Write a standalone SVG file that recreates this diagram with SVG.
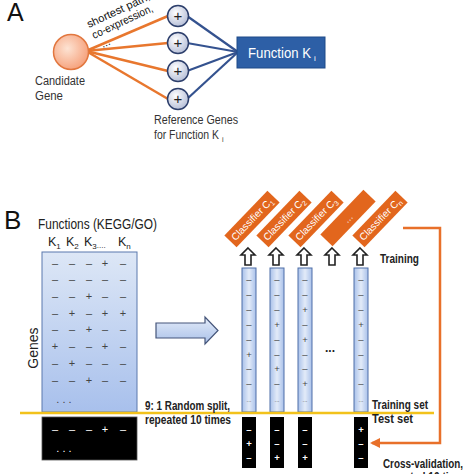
<svg xmlns="http://www.w3.org/2000/svg" width="474" height="474" viewBox="0 0 474 474">
<defs>
<radialGradient id="gCand" cx="0.4" cy="0.4" r="0.7"><stop offset="0" stop-color="#fde3d3"/><stop offset="1" stop-color="#f59a72"/></radialGradient>
<radialGradient id="gPlus" cx="0.4" cy="0.35" r="0.7"><stop offset="0" stop-color="#ffffff"/><stop offset="1" stop-color="#b3bcd6"/></radialGradient>
<linearGradient id="gMat" x1="0" y1="0" x2="0" y2="1"><stop offset="0" stop-color="#dde7f6"/><stop offset="1" stop-color="#a8c0ec"/></linearGradient>
<linearGradient id="gCol" x1="0" y1="0" x2="1" y2="0"><stop offset="0" stop-color="#a9c1ea"/><stop offset="0.5" stop-color="#e3ebf8"/><stop offset="1" stop-color="#a9c1ea"/></linearGradient>
<linearGradient id="gArr" x1="0" y1="0" x2="0" y2="1"><stop offset="0" stop-color="#e4ecf9"/><stop offset="1" stop-color="#a9c0e8"/></linearGradient>
<marker id="mOr" viewBox="0 0 10 10" refX="8" refY="5" markerWidth="4" markerHeight="4" orient="auto"><path d="M0,0 L10,5 L0,10 Z" fill="#e8702a"/></marker>
</defs>
<style>
text{font-family:"Liberation Sans",Arial,sans-serif;}
.lbl{font-size:12.5px;fill:#333;}
.bold{font-weight:bold;font-size:12.5px;fill:#222;}
.plus{fill:url(#gPlus);stroke:#2c3e6b;stroke-width:1.5;}
.ptxt{font-size:15px;fill:#222;text-anchor:middle;}
.orl{stroke:#e8772e;stroke-width:2.5;fill:none;}
.bll{stroke:#34528f;stroke-width:2.2;fill:none;}
.m{font-size:11px;fill:#444;text-anchor:middle;}
.c{font-size:9.5px;fill:#444;text-anchor:middle;}
.t{font-size:9.5px;fill:#fff;text-anchor:middle;font-weight:bold;}
.col{fill:url(#gCol);stroke:#4f6fa8;stroke-width:1;}
.tb{fill:#000;}
.cls{fill:#e2661d;}
.ctx{font-size:10px;fill:#fff;text-anchor:middle;}
.ha{fill:#fff;stroke:#222;stroke-width:1.6;}
.edge{font-size:11px;fill:#111;}
</style>

<text x="7" y="21" style="font-size:25px;fill:#111">A</text>

<g id="connectorsA">
<line class="orl" x1="86" y1="51" x2="168" y2="16"/>
<line class="orl" x1="86" y1="51" x2="168" y2="43"/>
<line class="orl" x1="86" y1="51" x2="168" y2="71"/>
<line class="orl" x1="86" y1="51" x2="168" y2="99"/>
<line class="bll" x1="187" y1="16" x2="238" y2="52"/>
<line class="bll" x1="187" y1="43" x2="238" y2="52"/>
<line class="bll" x1="187" y1="71" x2="238" y2="52"/>
<line class="bll" x1="187" y1="99" x2="238" y2="52"/>
<g transform="translate(89,28) rotate(-25)">
<text class="edge" x="0" y="0" textLength="68" lengthAdjust="spacingAndGlyphs">shortest path,</text>
<text class="edge" x="0" y="12" textLength="66" lengthAdjust="spacingAndGlyphs">co-expression,</text>
<text class="edge" x="4" y="24">...</text>
</g>
</g>

<g id="candidate">
<circle cx="71" cy="52" r="17.5" fill="url(#gCand)" stroke="#e2773f" stroke-width="1.5"/>
<text class="lbl" x="35" y="85" textLength="50" lengthAdjust="spacingAndGlyphs">Candidate</text>
<text class="lbl" x="35" y="100" textLength="28" lengthAdjust="spacingAndGlyphs">Gene</text>
</g>
<g id="ref1"><circle class="plus" cx="178" cy="16" r="10.5"/><text class="ptxt" x="178" y="21">+</text></g>
<g id="ref2"><circle class="plus" cx="178" cy="43" r="10.5"/><text class="ptxt" x="178" y="48">+</text></g>
<g id="ref3"><circle class="plus" cx="178" cy="71" r="10.5"/><text class="ptxt" x="178" y="76">+</text></g>
<g id="ref4"><circle class="plus" cx="178" cy="99" r="10.5"/><text class="ptxt" x="178" y="104">+</text></g>
<text class="lbl" x="154" y="124" textLength="84" lengthAdjust="spacingAndGlyphs">Reference Genes</text>
<text class="lbl" x="154" y="139" textLength="65" lengthAdjust="spacingAndGlyphs">for Function K</text>
<text x="222" y="142" style="font-size:7px;fill:#333">i</text>
<g id="function">
<rect x="237" y="37" width="88" height="31" fill="#2d5fa6" stroke="#1f4a88" stroke-width="1"/>
<text x="248" y="58" style="font-size:14px;fill:#fff" textLength="63" lengthAdjust="spacingAndGlyphs">Function K</text>
<text x="314" y="61" style="font-size:8px;fill:#fff">i</text>
</g>

<text x="4" y="229" style="font-size:26px;fill:#111">B</text>
<text x="38" y="229" style="font-size:14px;fill:#222" textLength="119" lengthAdjust="spacingAndGlyphs">Functions (KEGG/GO)</text>
<g style="font-size:12.5px;fill:#222">
<text x="48" y="246">K<tspan dy="3" style="font-size:8px">1</tspan></text>
<text x="66" y="246">K<tspan dy="3" style="font-size:8px">2</tspan></text>
<text x="84" y="246">K<tspan dy="3" style="font-size:8px">3</tspan><tspan dy="-1" style="font-size:8px">....</tspan></text>
<text x="118" y="246">K<tspan dy="3" style="font-size:8px">n</tspan></text>
</g>

<g id="matrix">
<rect x="42" y="252" width="95" height="160" fill="url(#gMat)" stroke="#5a78ad" stroke-width="1"/>
<g class="m">
<text x="55" y="267">–</text><text x="72" y="267">–</text><text x="89" y="267">–</text><text x="105" y="267">+</text><text x="123" y="267">–</text>
<text x="55" y="283">–</text><text x="72" y="283">–</text><text x="89" y="283">–</text><text x="105" y="283">–</text><text x="123" y="283">–</text>
<text x="55" y="300">–</text><text x="72" y="300">–</text><text x="89" y="300">+</text><text x="105" y="300">–</text><text x="123" y="300">–</text>
<text x="55" y="317">–</text><text x="72" y="317">+</text><text x="89" y="317">–</text><text x="105" y="317">+</text><text x="123" y="317">+</text>
<text x="55" y="333">–</text><text x="72" y="333">–</text><text x="89" y="333">+</text><text x="105" y="333">–</text><text x="123" y="333">–</text>
<text x="55" y="350">+</text><text x="72" y="350">–</text><text x="89" y="350">–</text><text x="105" y="350">+</text><text x="123" y="350">–</text>
<text x="55" y="367">–</text><text x="72" y="367">+</text><text x="89" y="367">–</text><text x="105" y="367">–</text><text x="123" y="367">–</text>
<text x="55" y="384">–</text><text x="72" y="384">–</text><text x="89" y="384">+</text><text x="105" y="384">–</text><text x="123" y="384">–</text>
<text x="64" y="403">. . .</text>
</g>
<text transform="translate(38,348) rotate(-90)" style="font-size:14px;fill:#222;text-anchor:middle">Genes</text>
</g>

<g id="testmatrix">
<rect x="42" y="417" width="95" height="43" fill="#000" stroke="#555" stroke-width="0.8"/>
<g class="m" style="fill:#fff">
<text x="55" y="433">–</text><text x="72" y="433">–</text><text x="89" y="433">–</text><text x="105" y="433">+</text><text x="123" y="433">–</text>
<text x="64" y="452">. . .</text>
</g>
</g>

<g id="bigarrow">
<path d="M156,323 L205,323 L205,317 L218,330.5 L205,344 L205,338 L156,338 Z" fill="url(#gArr)" stroke="#45557a" stroke-width="1.2"/>
</g>

<g id="classifiers">
<g transform="translate(252,219) rotate(-46)"><rect class="cls" x="-31" y="-8.5" width="62" height="17"/><text class="ctx" x="0" y="3.5">Classifier C<tspan dy="2.5" style="font-size:7px">1</tspan></text></g>
<g transform="translate(284,219) rotate(-46)"><rect class="cls" x="-31" y="-8.5" width="62" height="17"/><text class="ctx" x="0" y="3.5">Classifier C<tspan dy="2.5" style="font-size:7px">2</tspan></text></g>
<g transform="translate(316,219) rotate(-46)"><rect class="cls" x="-31" y="-8.5" width="62" height="17"/><text class="ctx" x="0" y="3.5">Classifier C<tspan dy="2.5" style="font-size:7px">3</tspan></text></g>
<g transform="translate(348,218) rotate(-46)"><rect class="cls" x="-31" y="-8.5" width="62" height="17"/><text class="ctx" x="0" y="3.5">...</text></g>
<g transform="translate(380,219) rotate(-46)"><rect class="cls" x="-31" y="-8.5" width="62" height="17"/><text class="ctx" x="0" y="3.5">Classifier C<tspan dy="2.5" style="font-size:7px">n</tspan></text></g>
</g>

<g id="uparrows">
<path class="ha" d="M248,248 L255,255 L251,255 L251,265 L245,265 L245,255 L241,255 Z"/>
<path class="ha" d="M276,248 L283,255 L279,255 L279,265 L273,265 L273,255 L269,255 Z"/>
<path class="ha" d="M304,248 L311,255 L307,255 L307,265 L301,265 L301,255 L297,255 Z"/>
<path class="ha" d="M332,248 L339,255 L335,255 L335,265 L329,265 L329,255 L325,255 Z"/>
<path class="ha" d="M360,248 L367,255 L363,255 L363,265 L357,265 L357,255 L353,255 Z"/>
</g>
<text class="bold" x="380" y="263" textLength="39" lengthAdjust="spacingAndGlyphs">Training</text>

<g id="col1">
<rect class="col" x="242" y="268" width="14" height="144"/>
<g class="c"><text x="249" y="283">–</text><text x="249" y="298">–</text><text x="249" y="313">–</text><text x="249" y="328">–</text><text x="249" y="343">–</text><text x="249" y="358">+</text><text x="249" y="372">–</text><text x="249" y="387">–</text><text x="249" y="402" style="font-size:6px">...</text></g>
<rect class="tb" x="242" y="417" width="14" height="51"/>
<g class="t"><text x="249" y="433">–</text><text x="249" y="447">+</text><text x="249" y="461">–</text></g>
</g>
<g id="col2">
<rect class="col" x="270" y="268" width="14" height="144"/>
<g class="c"><text x="277" y="283">–</text><text x="277" y="298">–</text><text x="277" y="313">–</text><text x="277" y="328">+</text><text x="277" y="343">–</text><text x="277" y="358">–</text><text x="277" y="372">+</text><text x="277" y="387">–</text><text x="277" y="402" style="font-size:6px">...</text></g>
<rect class="tb" x="270" y="417" width="14" height="51"/>
<g class="t"><text x="277" y="433">–</text><text x="277" y="447">–</text><text x="277" y="461">+</text></g>
</g>
<g id="col3">
<rect class="col" x="298" y="268" width="14" height="144"/>
<g class="c"><text x="305" y="283">–</text><text x="305" y="298">–</text><text x="305" y="313">+</text><text x="305" y="328">–</text><text x="305" y="343">+</text><text x="305" y="358">–</text><text x="305" y="372">–</text><text x="305" y="387">+</text><text x="305" y="402" style="font-size:6px">...</text></g>
<rect class="tb" x="298" y="417" width="14" height="51"/>
<g class="t"><text x="305" y="433">–</text><text x="305" y="447">–</text><text x="305" y="461">+</text></g>
</g>
<text x="330" y="352" style="font-size:12px;font-weight:bold;fill:#222;text-anchor:middle">...</text>
<g id="coln">
<rect class="col" x="354" y="268" width="14" height="144"/>
<g class="c"><text x="361" y="283">–</text><text x="361" y="298">–</text><text x="361" y="313">–</text><text x="361" y="328">+</text><text x="361" y="343">–</text><text x="361" y="358">–</text><text x="361" y="372">–</text><text x="361" y="387">–</text><text x="361" y="402" style="font-size:6px">...</text></g>
<rect class="tb" x="354" y="417" width="14" height="51"/>
<g class="t"><text x="361" y="433">+</text><text x="361" y="447">–</text><text x="361" y="461">–</text></g>
</g>

<line x1="20" y1="413" x2="434" y2="413" stroke="#f2c21b" stroke-width="2.5"/>
<text class="bold" x="145" y="410" textLength="85" lengthAdjust="spacingAndGlyphs">9: 1 Random split,</text>
<text class="bold" x="145" y="424" textLength="86" lengthAdjust="spacingAndGlyphs">repeated 10 times</text>
<text class="bold" x="372" y="409" textLength="56" lengthAdjust="spacingAndGlyphs">Training set</text>
<text class="bold" x="372" y="423" textLength="41" lengthAdjust="spacingAndGlyphs">Test set</text>

<g id="connectorsB">
<polyline points="403,228 440,228 440,443 372,443" fill="none" stroke="#e8702a" stroke-width="2.5" marker-end="url(#mOr)"/>
</g>
<text class="bold" x="383" y="468" textLength="80" lengthAdjust="spacingAndGlyphs">Cross-validation,</text>
<text class="bold" x="383" y="481" textLength="86" lengthAdjust="spacingAndGlyphs">repeated 10 times</text>
</svg>
